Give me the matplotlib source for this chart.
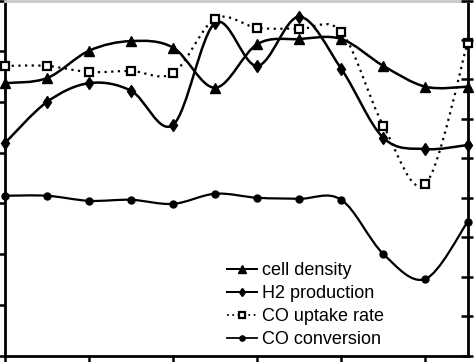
import matplotlib
matplotlib.use('Agg')
import matplotlib.pyplot as plt
from matplotlib.path import Path
from matplotlib.patches import PathPatch
import numpy as np

plt.rcParams['font.family'] = ['Liberation Sans', 'DejaVu Sans']

# sample index along the x axis (tick labels are cut off in the source)
x = np.arange(12)

# values, in left-axis units
cell_density = [5.37, 5.47, 6.01, 6.20, 6.07, 5.28, 6.14, 6.24, 6.24, 5.71, 5.30, 5.30]
h2_production = [4.19, 5.00, 5.37, 5.22, 4.55, 6.56, 5.71, 6.68, 5.65, 4.29, 4.07, 4.15]
co_uptake = [5.71, 5.71, 5.59, 5.61, 5.57, 6.64, 6.46, 6.44, 6.38, 4.53, 3.38, 6.16]
co_conversion = [3.15, 3.15, 3.05, 3.07, 2.99, 3.19, 3.11, 3.09, 3.07, 2.00, 1.51, 2.63]

labels = ['cell density', 'H2 production', 'CO uptake rate', 'CO conversion']


def smooth_path(xs, ys):
    # Excel style smoothed line: cubic bezier between neighbouring points
    p = np.column_stack([xs, ys]).astype(float)
    n = len(p)
    verts = [p[0]]
    codes = [Path.MOVETO]
    for i in range(n - 1):
        p0 = p[i - 1] if i > 0 else p[i]
        p3 = p[i + 2] if i + 2 < n else p[i + 1]
        c1 = p[i] + (p[i + 1] - p0) / 6.0
        c2 = p[i + 1] - (p3 - p[i]) / 6.0
        verts += [c1, c2, p[i + 1]]
        codes += [Path.CURVE4] * 3
    return Path(verts, codes)


fig = plt.figure(figsize=(4.74, 3.62), dpi=100)
ax = fig.add_axes([5 / 474, 6.5 / 362, 462.5 / 474, 355 / 362])

series = [
    (cell_density, dict(marker='^', ms=7), '-', 1.8),
    (h2_production, dict(marker='d', ms=6), '-', 1.8),
    (co_uptake, dict(marker='s', ms=6, mfc='white', mew=1.6), (0, (1, 2)), 1.6),
    (co_conversion, dict(marker='o', ms=5), '-', 1.6),
]

handles = []
for ys, mk, ls, lw in series:
    patch = PathPatch(smooth_path(x, ys), fill=False, ec='black', lw=lw,
                      ls=ls, clip_on=False, zorder=2)
    ax.add_patch(patch)
    style = dict(color='black', mec='black', mfc='black')
    style.update(mk)
    ax.plot(x, ys, ls='none', clip_on=False, zorder=3, **style)
    h, = ax.plot([], [], ls=ls, lw=lw * 0.8, **style)
    handles.append(h)

ax.set_xlim(0, 11)
ax.set_ylim(0, 7)
ax.set_xticks(np.arange(0, 12, 2))
ax.set_yticks(np.arange(0, 8, 1))
ax.tick_params(axis='both', direction='out', length=4, width=1.8,
               labelbottom=False, labelleft=False)
for s in ['left', 'right', 'bottom']:
    ax.spines[s].set_linewidth(2)
ax.spines['top'].set_color('#c8c8c8')
ax.spines['top'].set_linewidth(2)

ax2 = ax.twinx()
ax2.set_ylim(0, 9)
ax2.set_yticks(np.arange(0, 10, 1))
ax2.tick_params(axis='y', direction='inout', length=8, width=1.8, labelright=False)
for s in ax2.spines.values():
    s.set_visible(False)

ax.legend(handles, labels, loc='upper left', bbox_to_anchor=(0.465, 0.283),
          frameon=False, fontsize=13, handlelength=1.67, handletextpad=0.28,
          labelspacing=0.33, markerscale=0.75, borderaxespad=0)

fig.savefig('out.png', dpi=100)
